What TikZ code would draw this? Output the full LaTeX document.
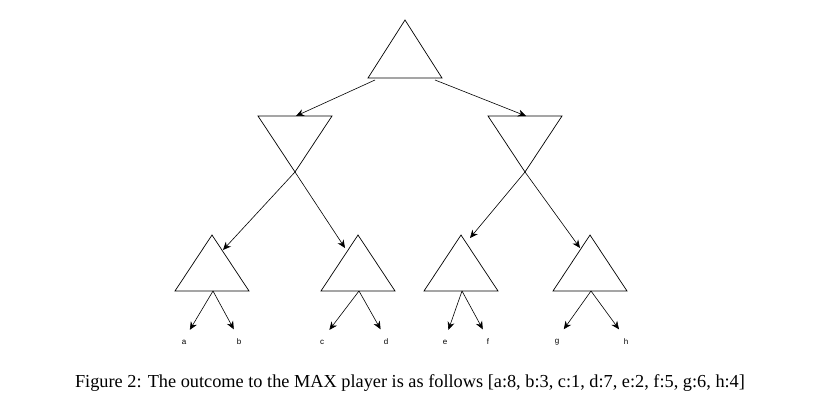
\documentclass[tikz,border=0pt]{standalone}
\usetikzlibrary{arrows.meta,calc}
\usepackage{fontspec}
\newfontfamily\lab{Liberation Sans}
\setmainfont{Liberation Serif}
\begin{document}
\begin{tikzpicture}[x=1pt,y=-1pt,
  edge/.style={draw,-{Stealth[length=8pt,width=7pt]},line width=0.6pt},
  tri/.style={draw,line width=0.7pt},
  leaf/.style={font=\lab\fontsize{8}{9}\selectfont,inner sep=0pt}]
\useasboundingbox (0,0) rectangle (817,417);
% root
\draw[tri] (405,20) -- (442,78) -- (368,78) -- cycle;
% min nodes
\draw[tri] (258,116) -- (332,116) -- (295,172) -- cycle;
\draw[tri] (488,116) -- (562,116) -- (525,172) -- cycle;
% max nodes
\foreach \c/\n in {212/A,358/B,461/C,590/D}{
  \draw[tri] (\c,235) -- (\c+37,291) -- (\c-37,291) -- cycle;
  \coordinate (\n) at (\c+1,291);
}
\coordinate (R1) at (375,80); \coordinate (R2) at (435,80);
\coordinate (L1) at (296,116); \coordinate (L2) at (526,116);
\draw[edge] (R1) -- (L1);
\draw[edge] (R2) -- (L2);
\coordinate (m1) at (295,172); \coordinate (m2) at (525,172);
\coordinate (t1) at (223,250); \coordinate (t2) at (345,248);
\coordinate (t3) at (470,238); \coordinate (t4) at (580,248);
\draw[edge] (m1) -- (t1); \draw[edge] (m1) -- (t2);
\draw[edge] (m2) -- (t3); \draw[edge] (m2) -- (t4);
\foreach \n/\la/\lb/\xa/\xb in {A/a/b/184/239,B/c/d/322/386,C/e/f/445/488,D/g/h/557/626}{
  \node[leaf] (\la) at (\xa,342) {\la};
  \node[leaf] (\lb) at (\xb,342) {\lb};
  \draw[edge] (\n) -- ($(\n)!0.8!(\la.north)$);
  \draw[edge] (\n) -- ($(\n)!0.8!(\lb.north)$);
}
\node[font=\fontsize{18.3}{20}\selectfont] (cap) at (410,383) {Figure 2: The outcome to the MAX player is as follows [a:8, b:3, c:1, d:7, e:2, f:5, g:6, h:4]};
\end{tikzpicture}
\end{document}
